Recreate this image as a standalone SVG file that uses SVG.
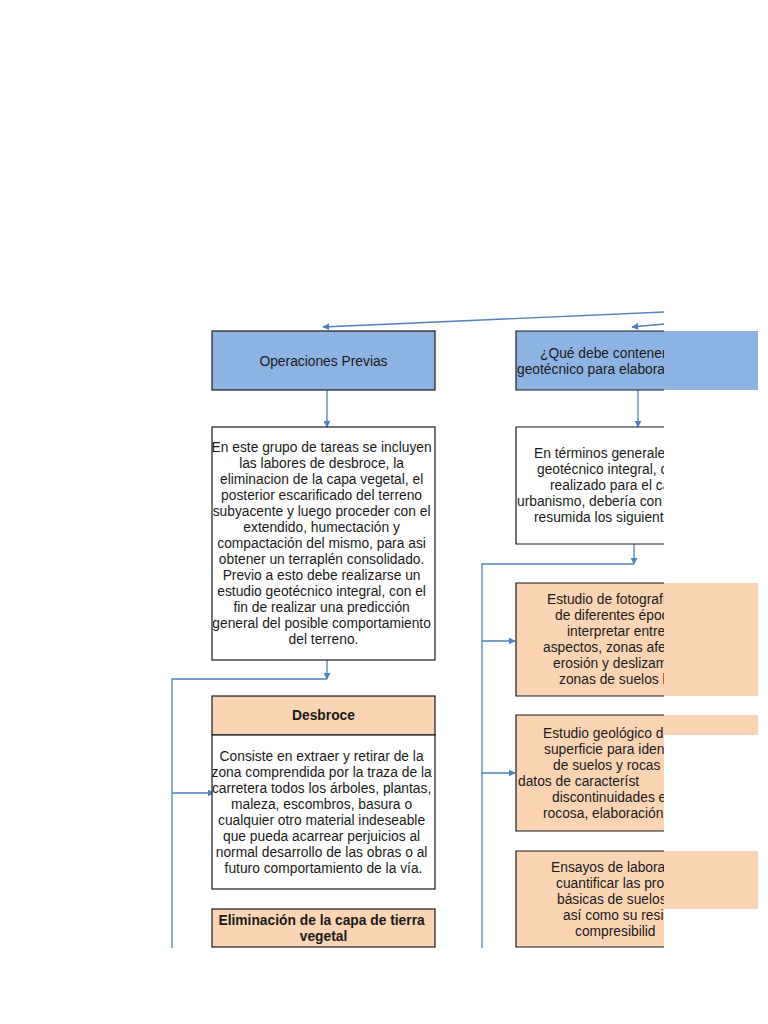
<svg xmlns="http://www.w3.org/2000/svg" width="768" height="1024" viewBox="0 0 768 1024">
<style>
.t{font-family:"Liberation Sans",Arial,sans-serif;font-size:13.8px;fill:#1a1a1a}
.c{text-anchor:middle}
.b{font-weight:bold}
.bx{stroke:#1a1a1a;stroke-width:1.2}
.blue{fill:#8DB3E2}
.or{fill:#FBD4B4}
.wh{fill:#ffffff}
.ln{fill:none;stroke:#4F81BD;stroke-width:1.3}
</style>
<defs>
<marker id="ah" viewBox="0 0 10 10" refX="9" refY="5" markerWidth="7" markerHeight="7" markerUnits="userSpaceOnUse" orient="auto">
<path d="M0,0 L10,5 L0,10 z" fill="#4F81BD"/>
</marker>
<clipPath id="clipR"><rect x="0" y="0" width="664" height="1024"/></clipPath>
</defs>
<rect width="768" height="1024" fill="#ffffff"/>

<g id="connectors">
<line class="ln" x1="664" y1="312" x2="323" y2="327" marker-end="url(#ah)"/>
<line class="ln" x1="664" y1="324" x2="632" y2="327" marker-end="url(#ah)"/>
<line class="ln" x1="327" y1="390" x2="327" y2="427" marker-end="url(#ah)"/>
<line class="ln" x1="327" y1="660" x2="327" y2="679" marker-end="url(#ah)"/>
<polyline class="ln" points="327,679 172,679 172,948"/>
<line class="ln" x1="172" y1="793" x2="214" y2="793" marker-end="url(#ah)"/>
<line class="ln" x1="638" y1="390" x2="638" y2="427" marker-end="url(#ah)"/>
<line class="ln" x1="634" y1="544" x2="634" y2="564" marker-end="url(#ah)"/>
<polyline class="ln" points="634,564 482,564 482,948"/>
<line class="ln" x1="482" y1="641" x2="515" y2="641" marker-end="url(#ah)"/>
<line class="ln" x1="482" y1="773" x2="515" y2="773" marker-end="url(#ah)"/>
</g>

<g id="operaciones-previas">
<rect class="bx blue" x="212" y="331" width="223" height="59"/>
<text class="t c" x="323.5" y="365.5">Operaciones Previas</text>
</g>

<g id="texto-operaciones">
<rect class="bx wh" x="212" y="427" width="223" height="233"/>
<text class="t c" x="323.5">
<tspan x="323.5" y="451.5">En este grupo de tareas se incluyen</tspan>
<tspan x="323.5" y="467.5">las labores de desbroce, la</tspan>
<tspan x="323.5" y="483.5">eliminacion de la capa vegetal, el</tspan>
<tspan x="323.5" y="499.5">posterior escarificado del terreno</tspan>
<tspan x="323.5" y="515.5">subyacente y luego proceder con el</tspan>
<tspan x="323.5" y="531.5">extendido, humectación y</tspan>
<tspan x="323.5" y="547.5">compactación del mismo, para asi</tspan>
<tspan x="323.5" y="563.5">obtener un terraplén consolidado.</tspan>
<tspan x="323.5" y="579.5">Previo a esto debe realizarse un</tspan>
<tspan x="323.5" y="595.5">estudio geotécnico integral, con el</tspan>
<tspan x="323.5" y="611.5">fin de realizar una predicción</tspan>
<tspan x="323.5" y="627.5">general del posible comportamiento</tspan>
<tspan x="323.5" y="643.5">del terreno.</tspan>
</text>
</g>

<g id="desbroce">
<rect class="bx or" x="212" y="696" width="223" height="39"/>
<text class="t c b" x="323.5" y="720">Desbroce</text>
<rect class="bx wh" x="212" y="735" width="223" height="154"/>
<text class="t c">
<tspan x="323.5" y="760.5">Consiste en extraer y retirar de la</tspan>
<tspan x="323.5" y="776.5">zona comprendida por la traza de la</tspan>
<tspan x="323.5" y="792.5">carretera todos los árboles, plantas,</tspan>
<tspan x="323.5" y="808.5">maleza, escombros, basura o</tspan>
<tspan x="323.5" y="824.5">cualquier otro material indeseable</tspan>
<tspan x="323.5" y="840.5">que pueda acarrear perjuicios al</tspan>
<tspan x="323.5" y="856.5">normal desarrollo de las obras o al</tspan>
<tspan x="323.5" y="872.5">futuro comportamiento de la vía.</tspan>
</text>
</g>

<g id="eliminacion">
<rect class="bx or" x="212" y="909" width="223" height="38"/>
<text class="t c b">
<tspan x="323.5" y="924.5">Eliminación de la capa de tierra</tspan>
<tspan x="323.5" y="940.5">vegetal</tspan>
</text>
</g>

<g id="que-debe-contener">
<rect class="blue" x="516" y="331" width="242" height="59"/>
<path class="bx" fill="none" d="M664,331 H516 V390 H664"/>
<g clip-path="url(#clipR)">
<text class="t" x="540" y="357.5">¿Qué debe contener</text>
<text class="t" x="517" y="373.5">geotécnico para elabora</text>
</g>
</g>

<g id="en-terminos">
<rect class="wh" x="516" y="427" width="148" height="117"/>
<path class="bx" fill="none" d="M664,427 H516 V544 H664"/>
<g clip-path="url(#clipR)">
<text class="t">
<tspan x="534" y="458">En términos generales</tspan>
<tspan x="537" y="474">geotécnico integral, c</tspan>
<tspan x="550" y="490">realizado para el ca</tspan>
<tspan x="517" y="506">urbanismo, debería con</tspan>
<tspan x="534" y="522">resumida los siguiente</tspan>
</text>
</g>
</g>

<g id="estudio-fotografias">
<rect class="or" x="516" y="583" width="242" height="113"/>
<path class="bx" fill="none" d="M664,583 H516 V696 H664"/>
<g clip-path="url(#clipR)">
<text class="t">
<tspan x="547" y="604">Estudio de fotografí</tspan>
<tspan x="555" y="620">de diferentes époc</tspan>
<tspan x="567" y="636">interpretar entre</tspan>
<tspan x="543" y="652">aspectos, zonas afe</tspan>
<tspan x="553" y="668">erosión y deslizam</tspan>
<tspan x="559" y="684">zonas de suelos b</tspan>
</text>
</g>
</g>

<g id="estudio-geologico">
<rect class="or" x="664" y="715" width="94" height="20"/>
<rect class="or" x="516" y="715" width="148" height="116"/>
<path class="bx" fill="none" d="M664,715 H516 V831 H664"/>
<g clip-path="url(#clipR)">
<text class="t">
<tspan x="543" y="737.5">Estudio geológico d</tspan>
<tspan x="544" y="753.5">superficie para iden</tspan>
<tspan x="553" y="769.5">de suelos y rocas y</tspan>
<tspan x="518" y="785.5">datos de característ</tspan>
<tspan x="552" y="801.5">discontinuidades e</tspan>
<tspan x="543" y="817.5">rocosa, elaboración</tspan>
</text>
</g>
</g>

<g id="ensayos-laboratorio">
<rect class="or" x="664" y="851" width="94" height="58"/>
<rect class="or" x="516" y="851" width="148" height="96"/>
<path class="bx" fill="none" d="M664,851 H516 V947 H664"/>
<g clip-path="url(#clipR)">
<text class="t">
<tspan x="551" y="871.5">Ensayos de labora</tspan>
<tspan x="556" y="887.5">cuantificar las prop</tspan>
<tspan x="557" y="903.5">básicas de suelos</tspan>
<tspan x="563" y="919.5">así como su resis</tspan>
<tspan x="575" y="935.5">compresibilid</tspan>
</text>
</g>
</g>
</svg>
